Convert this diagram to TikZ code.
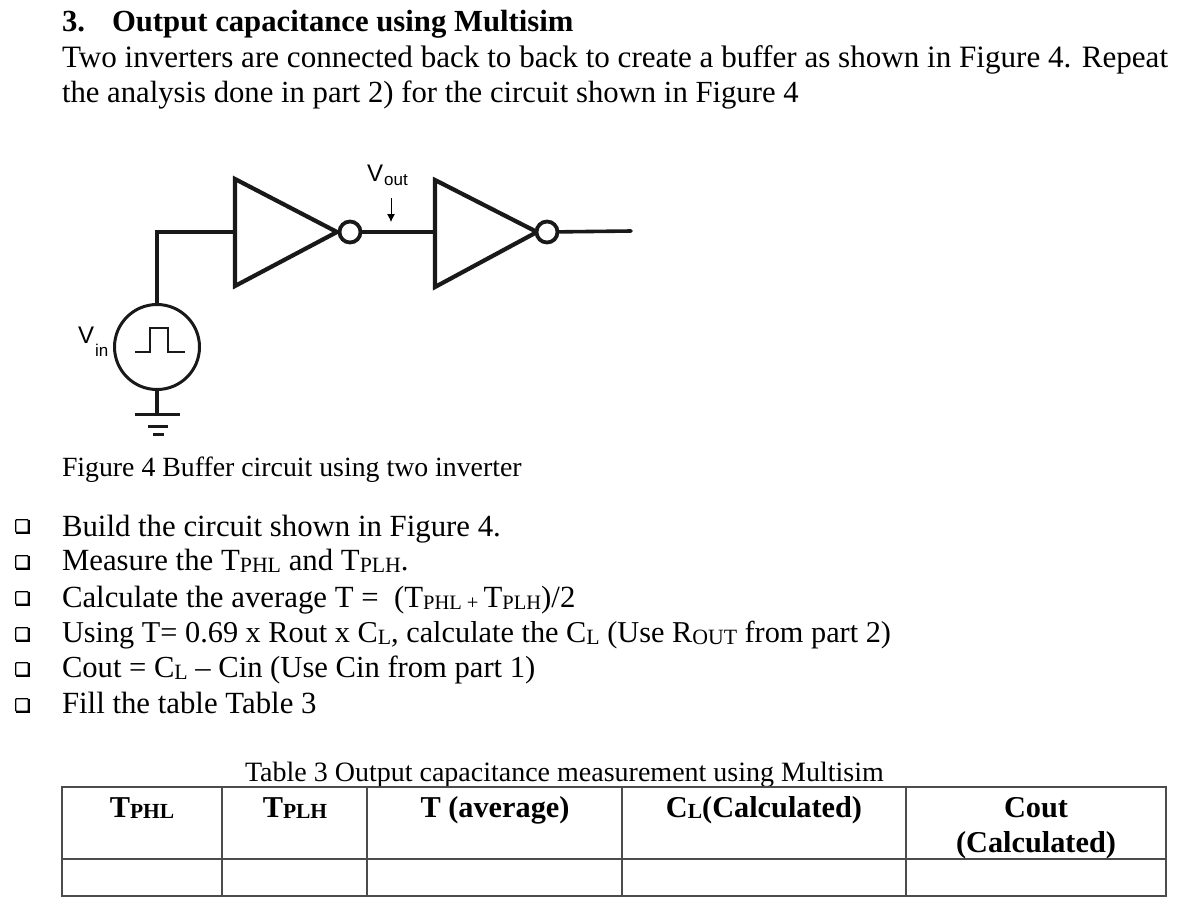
\documentclass[tikz,border=0pt]{standalone}
\usepackage{fontspec}
\setmainfont{Liberation Serif}
\setsansfont{Liberation Sans}
\usetikzlibrary{arrows.meta}
\newcommand{\sbs}[1]{\raisebox{-0.07em}{\fontsize{21.8}{22}\selectfont #1}}
\newcommand{\bsbs}[1]{\raisebox{-0.05em}{\fontsize{21.5}{22}\selectfont #1}}
\tikzset{
  x=1pt,y=-1pt,
  txt/.style={anchor=base west,inner sep=0pt,outer sep=0pt,font=\fontsize{31.1}{32}\selectfont},
  listtxt/.style={anchor=base west,inner sep=0pt,outer sep=0pt,font=\fontsize{30.8}{32}\selectfont},
  btxt/.style={anchor=base,inner sep=0pt,outer sep=0pt,align=center,font=\fontsize{30.3}{34.5}\selectfont\bfseries},
  wire/.style={line width=3.6pt,black!90,line cap=round,line join=miter},
  gate/.style={line width=4.2pt,draw=black!90,line join=miter},
  bubble/.style={circle,draw=black!90,line width=3.8pt,fill=white,minimum size=21pt,inner sep=0pt},
  source/.style={circle,draw=black!90,line width=3pt,minimum size=85pt,inner sep=0pt},
  lab/.style={anchor=base west,inner sep=0pt,font=\sffamily\fontsize{24}{25}\selectfont},
  sublab/.style={anchor=base west,inner sep=0pt,font=\sffamily\fontsize{17}{17}\selectfont},
  cbox/.style={draw=black,line width=1.3pt,rounded corners=0.8pt,minimum size=12.5pt,inner sep=0pt},
  tline/.style={line width=1.2pt,black!70},
}
\begin{document}
\begin{tikzpicture}
\useasboundingbox (0,0) rectangle (1180,914);
% text
\node[txt,font=\fontsize{30.7}{32}\selectfont\bfseries] (title) at (62,31) {3.\hspace{0.88em}Output capacitance using Multisim};
\node[txt] (l1) at (62,67) {Two inverters are connected back to back to create a buffer as shown in Figure 4. Repeat};
\node[txt,font=\fontsize{30.7}{32}\selectfont] (l2) at (62,102) {the analysis done in part 2) for the circuit shown in Figure 4};
\node[txt,font=\fontsize{27.8}{28}\selectfont] (cap) at (62,476) {Figure 4 Buffer circuit using two inverter};
% circuit
\coordinate (a1) at (235,179); \coordinate (a2) at (235,286); \coordinate (a3) at (337,232);
\coordinate (b1) at (435,180); \coordinate (b2) at (435,287); \coordinate (b3) at (537,232);
\coordinate (ain) at (235,232); \coordinate (bin) at (435,232);
\draw[gate] (a1) -- (a2) -- (a3) -- cycle;
\draw[gate] (b1) -- (b2) -- (b3) -- cycle;
\node[bubble] (ba) at (350,232) {};
\node[bubble] (bb) at (547,232) {};
\coordinate (out) at (631,231);
\coordinate (corner) at (157,232);
\node[source] (src) at (157,347) {};
\draw[wire] (ba) -- (bin);
\draw[wire] (bb) -- (out);
\draw[wire,line join=miter] (ain) -- (corner) -- (src);
\coordinate (gnd) at (157,414);
\draw[wire] (src) -- (gnd);
\coordinate (g1a) at (135,414); \coordinate (g1b) at (180,414);
\coordinate (g2a) at (148,426); \coordinate (g2b) at (168,426);
\coordinate (g3a) at (153,434); \coordinate (g3b) at (164,434);
\draw[line width=3pt,black!90] (g1a) -- (g1b);
\draw[line width=3pt,black!90] (g2a) -- (g2b);
\draw[line width=3pt,black!90] (g3a) -- (g3b);
\draw[line width=2pt,black!90] (135,352) -- (150,352) -- (150,328) -- (168,328) -- (168,352) -- (185,352);
% labels
\node[lab] (vin) at (78,343) {V};
\node[sublab] (vinsub) at (95,356) {in};
\node[lab] (vout) at (367,181) {V};
\node[sublab] (voutsub) at (384,185) {out};
\coordinate (va) at (391,198); \coordinate (vb) at (391,222);
\draw[line width=0.8pt,-{Latex[length=8pt,width=8pt]}] (va) -- (vb);
% list
\foreach \n/\y in {1/526,2/562,3/598,4/634,5/669,6/705}{
  \node[cbox] (chk\n) at (22,\y) {};
  \draw[line width=2.2pt,black] ([xshift=0.5pt]chk\n.south west) -- (chk\n.south east) -- ([yshift=-0.5pt]chk\n.north east);
}
\node[listtxt] (i1) at (62,536) {Build the circuit shown in Figure 4.};
\node[listtxt] (i2) at (62,570) {Measure the T\sbs{PHL} and T\sbs{PLH}.};
\node[listtxt] (i3) at (62,607) {Calculate the average T =\ \ (T\raisebox{-0.07em}{\fontsize{20.5}{21}\selectfont PHL + }T\raisebox{-0.07em}{\fontsize{20.5}{21}\selectfont PLH})/2};
\node[listtxt,font=\fontsize{30.3}{32}\selectfont] (i4) at (62,642) {Using T= 0.69 x Rout x C\sbs{L}, calculate the C\sbs{L} (Use R\sbs{OUT} from part 2)};
\node[listtxt,font=\fontsize{30.6}{32}\selectfont] (i5) at (62,677) {Cout = C\sbs{L} -- Cin (Use Cin from part 1)};
\node[listtxt] (i6) at (62,713) {Fill the table Table 3};
% table
\node[txt,font=\fontsize{28}{28}\selectfont] (tcap) at (245,781) {Table 3 Output capacitance measurement using Multisim};
\draw[tline] (62,787) rectangle (1166,896);
\draw[tline] (62,859) -- (1166,859);
\foreach \x in {222,367,622,906}{\draw[tline] (\x,787) -- (\x,896);}
\node[btxt] (h1) at (142,817) {T\bsbs{PHL}};
\node[btxt] (h2) at (295,817) {T\bsbs{PLH}};
\node[btxt] (h3) at (495,817) {T (average)};
\node[btxt] (h4) at (764,817) {C\bsbs{L}(Calculated)};
\node[btxt] (h5) at (1036,817) {Cout};
\node[btxt] (h6) at (1036,852) {(Calculated)};
\end{tikzpicture}
\end{document}
